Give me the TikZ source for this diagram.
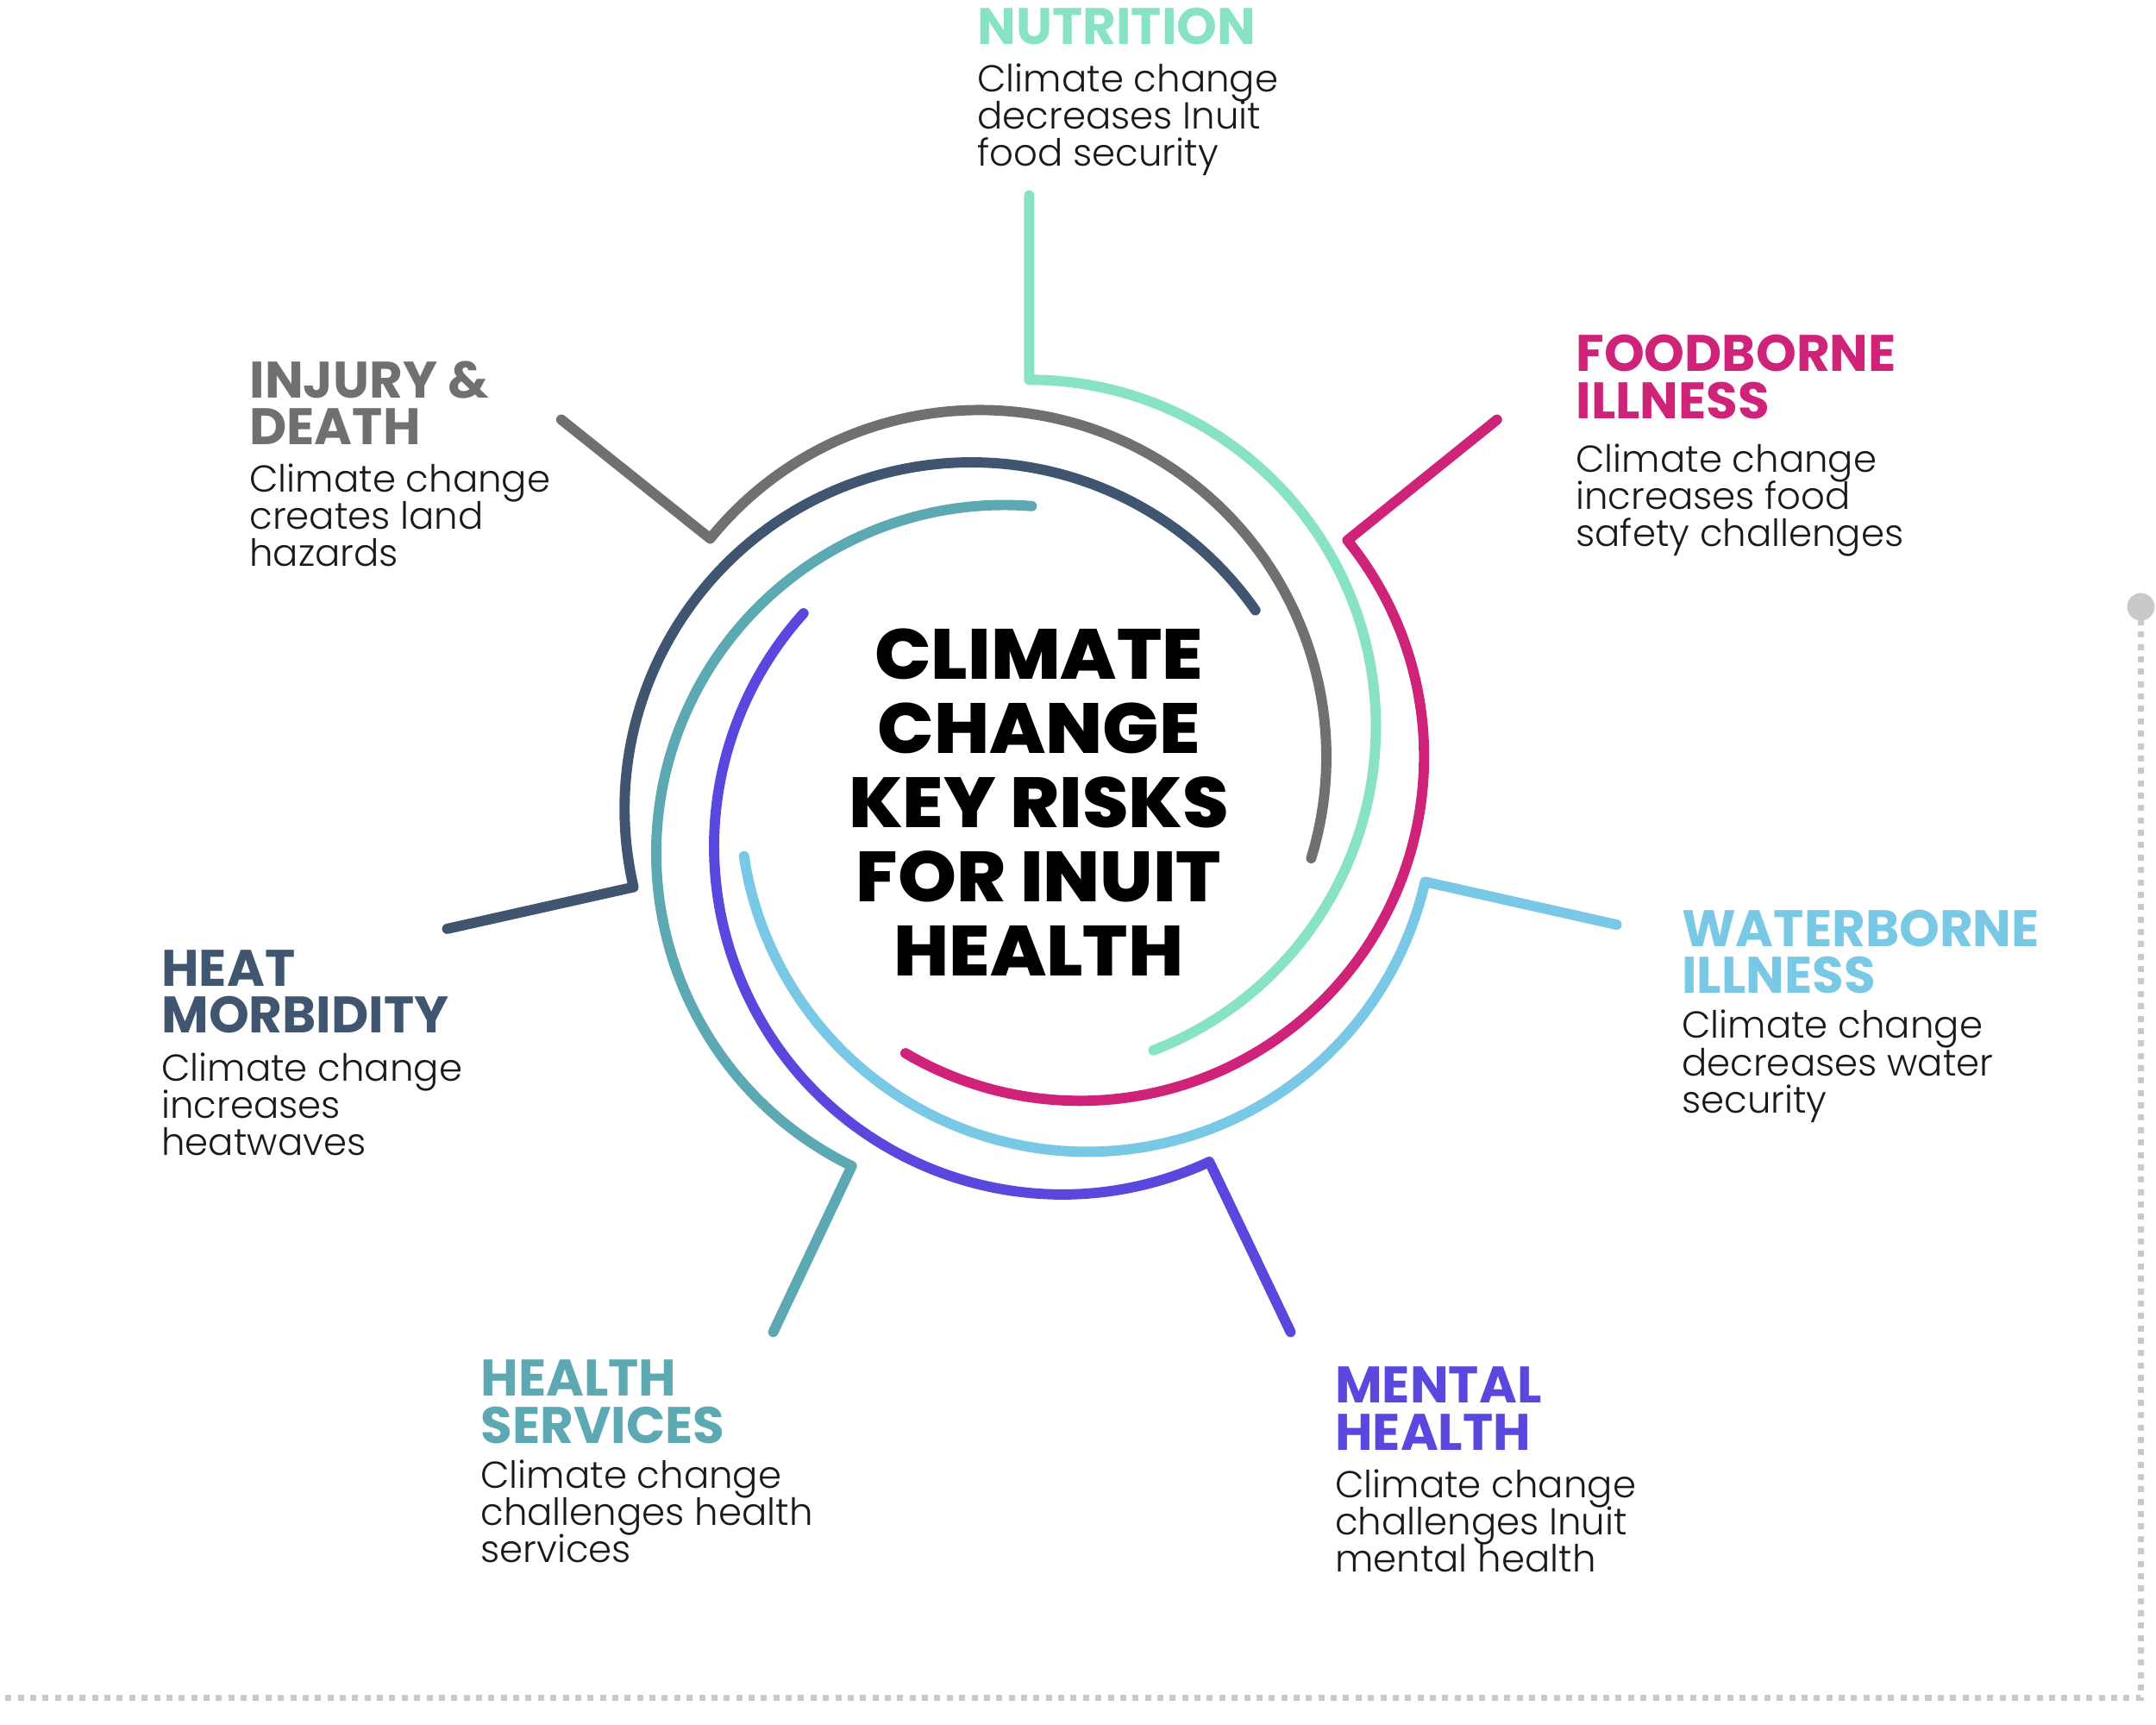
\documentclass[tikz,border=0pt]{standalone}
\usepackage{fontspec}
\setmainfont{Poppins}
\IfFontExistsTF{Poppins Light}{\newfontfamily\lightfont{Poppins Light}}{\newfontfamily\lightfont{Poppins}}
\IfFontExistsTF{Poppins ExtraBold}{\newfontfamily\heavyfont{Poppins ExtraBold}[FakeStretch=1.05]}{\newcommand\heavyfont{\bfseries}}
\newcommand\tightlines{\lineskiplimit=-10pt\relax}
\usetikzlibrary{positioning}

\definecolor{nutric}{HTML}{88E3C6}
\definecolor{foodc}{HTML}{CE2379}
\definecolor{waterc}{HTML}{78C8E6}
\definecolor{mentalc}{HTML}{5A48DE}
\definecolor{servc}{HTML}{5CA8B3}
\definecolor{heatc}{HTML}{405670}
\definecolor{injc}{HTML}{707073}
\definecolor{dotc}{HTML}{C9C9C9}

\begin{document}
\begin{tikzpicture}[x=0.016cm, y=-0.016cm]
\tikzstyle{ring} = [line width=3.4pt, line cap=round, line join=round]
\tikzstyle{title} = [inner sep=0pt, anchor=north west, align=left, font=\fontsize{17}{15.5}\selectfont\bfseries\tightlines]
\tikzstyle{body} = [inner sep=0pt, anchor=north west, align=left, text=black!90, font=\lightfont\fontsize{12.4}{12.3}\selectfont\tightlines]
\tikzstyle{border} = [dotc, line width=2pt, dash pattern=on 2pt off 2.1pt]
\useasboundingbox (0,0) rectangle (1567,1253);

% dotted frame
\coordinate (dotTop) at (1556,441);
\coordinate (dotCorner) at (1556,1234);
\coordinate (dotEnd) at (0,1234);
\draw[border] (dotTop) -- (dotCorner) -- (dotEnd);
\fill[dotc] (dotTop) circle (10);

% ring centres
\coordinate (nutC) at (748,528);
\coordinate (foodC) at (785,550);
\coordinate (waterC) at (790,585);
\coordinate (mentalC) at (772,615);
\coordinate (servC) at (730,620);
\coordinate (heatC) at (706,588);
\coordinate (injC) at (712,550);

% joints on the rings
\coordinate (nutJ) at ([shift={(-90:252)}]nutC);
\coordinate (foodJ) at ([shift={(-39:250)}]foodC);
\coordinate (waterJ) at ([shift={(12.8:252)}]waterC);
\coordinate (mentalJ) at ([shift={(65:253)}]mentalC);
\coordinate (servJ) at ([shift={(116:253)}]servC);
\coordinate (heatJ) at ([shift={(167:252)}]heatC);
\coordinate (injJ) at ([shift={(219:252)}]injC);

% outer ends of the spokes
\coordinate (nutO) at (748,142);
\coordinate (foodO) at (1088,305);
\coordinate (waterO) at (1175,672);
\coordinate (mentalO) at (938,968);
\coordinate (servO) at (562,968);
\coordinate (heatO) at (325,675);
\coordinate (injO) at (408,305);

\draw[ring, injc] (injO) -- (injJ) arc[start angle=219, end angle=377, radius=252];
\draw[ring, heatc] (heatO) -- (heatJ) arc[start angle=167, end angle=325, radius=252];
\draw[ring, servc] (servO) -- (servJ) arc[start angle=116, end angle=274.5, radius=253];
\draw[ring, mentalc] (mentalO) -- (mentalJ) arc[start angle=65, end angle=222, radius=253];
\draw[ring, waterc] (waterO) -- (waterJ) arc[start angle=12.8, end angle=171.5, radius=252];
\draw[ring, foodc] (foodO) -- (foodJ) arc[start angle=-39, end angle=120.5, radius=250];
\draw[ring, nutric] (nutO) -- (nutJ) arc[start angle=-90, end angle=69, radius=252];

\node[font=\heavyfont\fontsize{23.5}{24.6}\selectfont, align=center, inner sep=0pt] (core) at (755,583) {CLIMATE\\CHANGE\\KEY RISKS\\FOR INUIT\\HEALTH};

\node[title, nutric] (nutT) at (710,5) {NUTRITION};
\node[below=6pt of nutT.south west, body] (nutB) {Climate change\\decreases Inuit\\food security};
\node[title, foodc] (foodT) at (1145,243) {FOODBORNE\\ILLNESS};
\node[below=8pt of foodT.south west, body] (foodB) {Climate change\\increases food\\safety challenges};
\node[title, waterc] (waterT) at (1222,661) {WATERBORNE\\ILLNESS};
\node[below=5pt of waterT.south west, body] (waterB) {Climate change\\decreases water\\security};
\node[title, mentalc] (mentalT) at (970,993) {MENTAL\\HEALTH};
\node[below=6pt of mentalT.south west, body] (mentalB) {Climate change\\challenges Inuit\\mental health};
\node[title, servc] (servT) at (349,988) {HEALTH\\SERVICES};
\node[below=5pt of servT.south west, body] (servB) {Climate change\\challenges health\\services};
\node[title, heatc] (heatT) at (117,690) {HEAT\\MORBIDITY};
\node[below=6pt of heatT.south west, body] (heatB) {Climate change\\increases\\heatwaves};
\node[title, injc] (injT) at (181,262) {INJURY \&\\DEATH};
\node[below=6pt of injT.south west, body] (injB) {Climate change\\creates land\\hazards};
\end{tikzpicture}
\end{document}
